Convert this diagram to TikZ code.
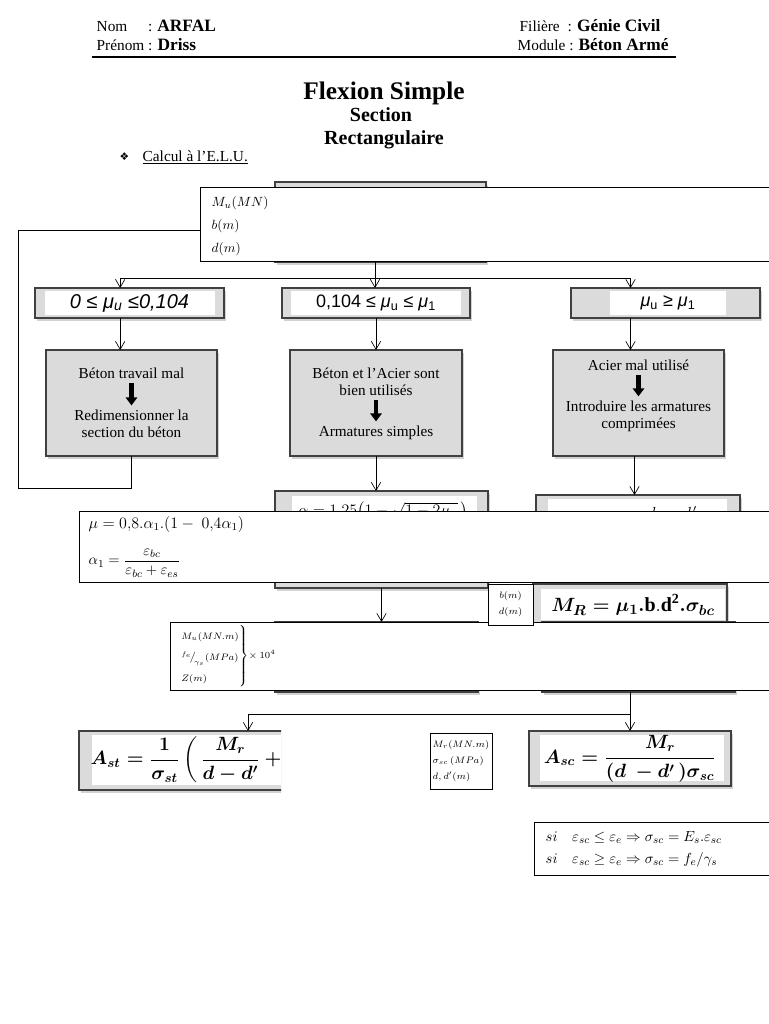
\documentclass[tikz,border=0pt]{standalone}
\usepackage{fontspec}
\setmainfont{Liberation Serif}
\setsansfont{Liberation Sans}
\newfontfamily\symb{DejaVu Sans}
\usepackage{amsmath}
\usetikzlibrary{arrows.meta,shadows}
\tikzset{
    fleche/.style={-{Straight Barb[length=6pt,width=7pt]},line width=0.5pt},
    grosse/.style={-{Triangle[length=6pt,width=8.5pt]},line width=3.5pt},
    taille/.style 2 args={minimum width=#1*0.75pt,minimum height=#2*0.75pt,inner sep=0pt,outer sep=0pt},
    grisbox/.style={draw=black!75,line width=0.8pt,fill=gray!28,
      drop shadow={shadow xshift=1.5pt,shadow yshift=-2pt,opacity=0.35}},
    blanc/.style={fill=white,inner sep=0pt,outer sep=0pt},
    cadre/.style={draw,line width=0.6pt,fill=white},
    texte/.style={font=\fontsize{11.4}{12.8}\selectfont,align=center},
}

\begin{document}
\begin{tikzpicture}[x=0.75pt,y=-0.75pt]
\fill[white] (0,0) rectangle (768,1024);
\useasboundingbox (0,0) rectangle (768,1024);
%
% En-tete
\node[anchor=base west,font=\fontsize{11.5}{14}\selectfont] (nom) at (92,32)
  {\makebox[38.5pt][l]{Nom}: {\fontsize{13}{15}\selectfont\bfseries ARFAL}};
\node[anchor=base west,font=\fontsize{11.5}{14}\selectfont] (prenom) at (92,51)
  {Prénom : {\fontsize{13}{15}\selectfont\bfseries Driss}};
\node[anchor=base west,font=\fontsize{11.5}{14}\selectfont] (filiere) at (515,32)
  {Filière\hspace{6pt}: {\fontsize{13}{15}\selectfont\bfseries Génie Civil}};
\node[anchor=base west,font=\fontsize{11.5}{14}\selectfont] (module) at (513,51)
  {Module : {\fontsize{13}{15}\selectfont\bfseries Béton Armé}};
\draw[line width=1.6pt] (92,57) -- (676,57);
%
% Titre
\node[anchor=base,font=\fontsize{19}{22}\selectfont\bfseries] (titre) at (384,99) {Flexion Simple};
\node[anchor=base,font=\fontsize{15}{18}\selectfont\bfseries] (section) at (381,122) {Section};
\node[anchor=base,font=\fontsize{15}{18}\selectfont\bfseries] (rectangulaire) at (384,144) {Rectangulaire};
\node[anchor=base west,font=\symb\fontsize{8}{10}\selectfont] (puce) at (115,160) {❖};
\node[anchor=base west,font=\fontsize{11.5}{14}\selectfont] (elu) at (138,161) {\underline{Calcul à l’E.L.U.}};
%
% Donnees
\node[grisbox,taille={211}{80}] (cache0) at (380.5,222) {};
\node[cadre,taille={572}{74}] (donnees) at (486,224) {};
\node[anchor=north west,align=left,font=\fontsize{10}{17}\selectfont] (unites) at (207,192)
  {$M_u(MN)$\\$b(m)$\\$d(m)$};
%
% Conditions sur mu
\node[grisbox,taille={189}{30}] (condA) at (129.5,303) {};
\node[blanc,taille={170}{24},font=\sffamily\itshape\fontsize{15}{16}\selectfont] (fA) at (condA)
  {0 ≤ μ\textsubscript{u} ≤0,104};
\node[grisbox,taille={188}{30}] (condB) at (376,303) {};
\node[blanc,taille={170}{24},font=\sffamily\fontsize{13.5}{16}\selectfont] (fB) at (condB)
  {0,104 ≤ \textit{μ}\textsubscript{u} ≤ \textit{μ}\textsubscript{1}};
\node[grisbox,taille={189}{30}] (condC) at (665.5,303) {};
\node[blanc,taille={116}{24},font=\sffamily\fontsize{13.5}{16}\selectfont] (fC) at (668,303)
  {\textit{μ}\textsubscript{u} ≥ \textit{μ}\textsubscript{1}};
%
% Diagnostics
\node[grisbox,taille={171}{106}] (beton1) at (131.5,403) {};
\node[texte] (t1a) at (131.5,373) {Béton travail mal};
\node[texte] (t1b) at (131.5,424) {Redimensionner la\\section du béton};
\draw[grosse] (t1a.south) -- (t1b.north);
\node[grisbox,taille={172}{106}] (beton2) at (376,403) {};
\node[texte] (t2a) at (376,381.5) {Béton et l’Acier sont\\bien utilisés};
\node[texte] (t2b) at (376,433) {Armatures simples};
\draw[grosse] (t2a.south) -- (t2b.north);
\node[grisbox,taille={171}{106}] (beton3) at (638.5,403) {};
\node[texte] (t3a) at (638.5,365) {Acier mal utilisé};
\node[texte] (t3b) at (638.5,416.5) {Introduire les armatures\\comprimées};
\draw[grosse] (t3a.south) -- (t3b.north);
%
% Liaisons
\coordinate (bif) at (375,278);
\coordinate (retour) at (18,488);
\draw[line width=0.6pt] (beton1.south) |- (retour) |- ([yshift=-4.5pt]donnees.west);
\draw[line width=0.5pt] (bif |- donnees.south) -- (bif);
\draw[line width=0.5pt] ([xshift=-7pt]condA.north |- bif) -- ([xshift=-6pt]beton3.north |- bif);
\draw[fleche] ([xshift=-7pt]condA.north |- bif) -- ([xshift=-7pt]condA.north);
\draw[fleche] (bif) -- (bif |- condB.north);
\draw[fleche] ([xshift=-6pt]beton3.north |- bif) -- ([xshift=-6pt]beton3.north |- condC.north);
\draw[fleche] ([xshift=-7pt]condA.south) -- ([xshift=-7pt]condA.south |- beton1.north);
\draw[fleche] (condB.south) -- (condB.south |- beton2.north);
\draw[fleche] ([xshift=-6pt]beton3.north |- condC.south) -- ([xshift=-6pt]beton3.north);
%
% Armatures simples / doubles
\node[grisbox,taille={213}{97}] (condD) at (381.5,539.5) {};
\node[blanc,taille={185}{86}] (fondD) at (384.5,539) {};
\node[anchor=base,font=\fontsize{13}{15}\selectfont] (alpha) at (383,515)
  {$\alpha = 1{,}25\bigl(1-\sqrt{1-2\mu_u}\,\bigr)$};
\node[grisbox,taille={204}{85}] (condE) at (638,537.5) {};
\node[blanc,taille={179}{78}] (fondE) at (637.5,538) {};
\node[anchor=base,font=\fontsize{12}{14}\selectfont] (zeta) at (672,518) {$d\ -\ d^{\,\prime}$};
\draw[fleche] (beton2.south) -- (beton2.south |- condD.north);
\draw[fleche] ([xshift=-3pt]beton3.south) -- ([xshift=-3pt]beton3.south |- condE.north);
%
% mu et alpha1
\node[cadre,taille={693}{71}] (mubox) at (425.5,546.5) {};
\node[anchor=west,font=\fontsize{11.5}{13}\selectfont] (murel) at (84,524)
  {$\mu = 0{,}8.\alpha_1.(1-\ 0{,}4\alpha_1)$};
\node[anchor=west,font=\fontsize{11}{13}\selectfont] (alpha1) at (84,563)
  {$\alpha_1 = \dfrac{\varepsilon_{bc}}{\varepsilon_{bc}+\varepsilon_{es}}$};
%
% Moment resistant
\node[grisbox,taille={194}{39}] (mrbox) at (630,603.5) {};
\node[blanc,taille={184}{31}] (fondMR) at (633,604) {};
\node[font=\fontsize{15}{17}\selectfont] (formMR) at (633,605)
  {$\boldsymbol{M_R = \mu_1.}\mathbf{b.d}^{\mathbf{2}}\boldsymbol{.\sigma_{bc}}$};
\node[grisbox,taille={203}{70}] (cache2) at (376.5,657) {};
\node[grisbox,taille={193}{70}] (cache3) at (638.5,657) {};
\draw[fleche] (condD.south) -- (condD.south |- cache2.north);
%
% Unites
\node[cadre,taille={602}{68}] (fbox) at (471,656) {};
\node[cadre,taille={45}{41}] (bdbox) at (510.5,604.5) {};
\node[align=center,font=\fontsize{7.5}{12}\selectfont] (bdtxt) at (bdbox) {$b(m)$\\$d(m)$};
\renewcommand{\arraystretch}{1.75}
\node[anchor=west,font=\fontsize{7}{9}\selectfont] (fetxt) at (175,656)
  {$\left.\begin{array}{@{}l@{}} M_u(MN.m)\\ {}^{f_e}\!\big/_{\!\gamma_s}(MPa)\\ Z(m)\end{array}\right\}\!\times 10^4$};
%
% Sections d'acier
\coordinate (bif2) at (248,714);
\begin{scope}
\clip (60,715) rectangle (281,800);
\node[grisbox,taille={250}{59}] (ast) at (204,760.5) {};
\node[blanc,taille={230}{50}] (fondAst) at (207,760) {};
\node[anchor=west,font=\fontsize{14}{16}\selectfont] (astf) at (86,760)
  {$\boldsymbol{A_{st} = \dfrac{1}{\sigma_{st}}\left(\,\dfrac{M_r}{d-d'} + \dfrac{\hphantom{M_R}}{d\hphantom{M}}\right)}$};
\end{scope}
\node[cadre,taille={62}{56}] (petit) at (461,761) {};
\node[align=left,font=\fontsize{7}{12}\selectfont] (petittxt) at (petit)
  {$M_r(MN.m)$\\$\sigma_{sc}\,(MPa)$\\$d,d'(m)$};
\node[grisbox,taille={202}{55}] (asc) at (630,758.5) {};
\node[blanc,taille={184}{46}] (fondAsc) at (632,758) {};
\node[font=\fontsize{14}{16}\selectfont] (ascf) at (630,759)
  {$\boldsymbol{A_{sc} = \dfrac{M_r}{(d\ -d'\,)\sigma_{sc}}}$};
\draw[line width=0.5pt] (asc.north |- cache3.south) -- (asc.north |- bif2) -- (bif2);
\draw[fleche] (asc.north |- bif2) -- (asc.north);
\draw[fleche] (bif2) -- (bif2 |- ast.north);
%
% Contrainte acier comprime
\node[cadre,taille={238}{53}] (sibox) at (653,848.5) {};
\node[anchor=west,align=left,font=\fontsize{11}{16.5}\selectfont] (sitxt) at (541,849)
  {$si\quad \varepsilon_{sc}\le\varepsilon_e \Rightarrow \sigma_{sc} = E_s.\varepsilon_{sc}$\\
   $si\quad \varepsilon_{sc}\ge\varepsilon_e \Rightarrow \sigma_{sc} = f_e/\gamma_s$};
\end{tikzpicture}
\end{document}
